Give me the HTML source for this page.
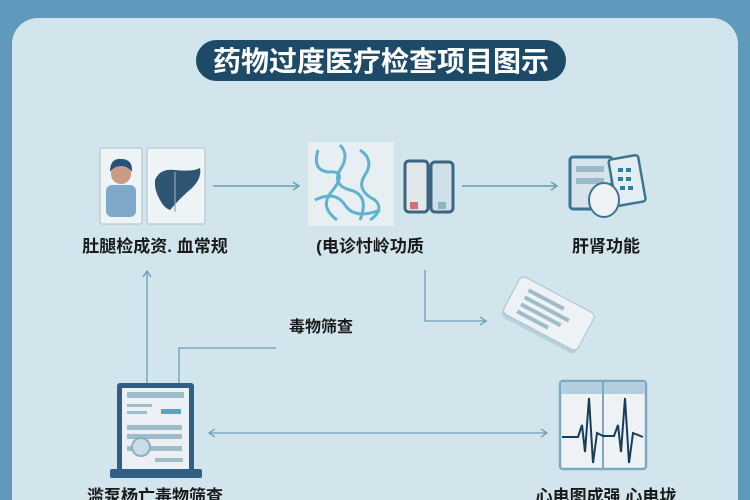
<!DOCTYPE html>
<html><head><meta charset="utf-8"><style>
html,body{margin:0;padding:0;width:750px;height:500px;overflow:hidden;background:#5f99bb}
svg{display:block}
text{font-family:"Liberation Sans","Noto Sans CJK SC",sans-serif;fill:#1a1a1a;font-weight:bold}
</style></head><body>
<svg width="750" height="500" viewBox="0 0 750 500">
<rect x="0" y="0" width="750" height="500" fill="#5f99bb"/>
<rect x="12" y="18" width="726" height="520" rx="26" fill="#d2e5ec"/>
<rect x="196" y="40" width="370" height="41" rx="20.5" fill="#1d4a67"/>
<text x="381" y="71" font-size="28" text-anchor="middle" style="fill:#fff">药物过度医疗检查项目图示</text>

<rect x="100" y="148" width="42" height="76" rx="2" fill="#eef3f5" stroke="#a9c0ca"/>
<rect x="147" y="148" width="58" height="76" rx="2" fill="#eef3f5" stroke="#a9c0ca"/>
<rect x="106" y="185" width="30" height="32" rx="6" fill="#7fa9c8"/>
<circle cx="121" cy="174" r="10" fill="#c99a85"/>
<path d="M110 172 q0 -14 11 -13 q12 0 11 13 q-4 -6 -11 -6 q-7 0 -11 6z" fill="#24527a"/>
<path d="M155 180 q5 -12 20 -10 q18 2 25 -2 q2 10 -8 20 q-12 10 -22 22 q-6 -2 -10 -10 q-6 -10 -5 -20z" fill="#2f5574"/>
<line x1="175" y1="172" x2="175" y2="212" stroke="#8fa6b6" stroke-width="1.2"/>
<text x="155" y="252" font-size="17" text-anchor="middle">肚腿检成资. 血常规</text>

<line x1="213" y1="186" x2="298" y2="186" stroke="#6b9db5" stroke-width="1.5"/>
<path d="M293 182 l6 4 l-6 4" fill="none" stroke="#6b9db5" stroke-width="1.5"/>

<rect x="308" y="142" width="86" height="84" fill="#e7eff2"/>
<path d="M318 150 q-6 20 10 22 q20 -2 5 18 q-15 16 4 30 M340 145 q10 10 0 25 q-8 15 10 20 q20 5 10 30 M360 150 q15 10 5 25 q-10 15 10 25 q10 10 -5 20 M315 200 q20 -10 30 5 q10 15 35 5" fill="none" stroke="#5fb3cf" stroke-width="3"/>
<rect x="405" y="161" width="23" height="51" rx="4" fill="#dfe7ea" stroke="#3c6582" stroke-width="3"/>
<rect x="410" y="202" width="8" height="7" fill="#d17070"/>
<rect x="431" y="162" width="22" height="50" rx="4" fill="#cfe0e8" stroke="#3c6582" stroke-width="3"/>
<rect x="438" y="202" width="8" height="7" fill="#8fb3c4"/>
<text x="370" y="252" font-size="17" text-anchor="middle">(电诊忖岭功质</text>

<line x1="462" y1="186" x2="556" y2="186" stroke="#6b9db5" stroke-width="1.5"/>
<path d="M551 182 l6 4 l-6 4" fill="none" stroke="#6b9db5" stroke-width="1.5"/>

<rect x="570" y="157" width="42" height="52" rx="3" fill="#d6e3ea" stroke="#3d7590" stroke-width="3"/>
<rect x="576" y="166" width="28" height="6" fill="#9bb9c9"/>
<rect x="576" y="178" width="28" height="6" fill="#9bb9c9"/>
<rect x="612" y="157" width="30" height="47" rx="3" fill="#e4eef2" stroke="#3d7590" stroke-width="2.5" transform="rotate(-10 627 180)"/>
<g fill="#2e7fa0"><rect x="618" y="168" width="5" height="4"/><rect x="626" y="168" width="5" height="4"/><rect x="618" y="177" width="5" height="4"/><rect x="626" y="177" width="5" height="4"/><rect x="620" y="186" width="5" height="4"/><rect x="628" y="186" width="5" height="4"/></g>
<ellipse cx="604" cy="200" rx="15" ry="17" fill="#eef2f4" stroke="#3d7590" stroke-width="2"/>
<text x="606" y="252" font-size="17" text-anchor="middle">肝肾功能</text>

<line x1="147" y1="409" x2="147" y2="272" stroke="#6b9db5" stroke-width="1.3"/>
<path d="M143 277 l4 -6 l4 6" fill="none" stroke="#6b9db5" stroke-width="1.3"/>
<polyline points="276,348 179,348 179,408" fill="none" stroke="#6b9db5" stroke-width="1.3"/>
<path d="M175 402 l4 6 l4 -6" fill="none" stroke="#6b9db5" stroke-width="1.3"/>
<text x="321" y="332" font-size="16" text-anchor="middle">毒物筛查</text>
<polyline points="425,270 425,321 485,321" fill="none" stroke="#6b9db5" stroke-width="1.3"/>
<path d="M480 317 l6 4 l-6 4" fill="none" stroke="#6b9db5" stroke-width="1.3"/>

<g transform="rotate(28 547 317)">
<rect x="505" y="296" width="84" height="42" rx="5" fill="#b8d0dc"/>
<rect x="505" y="292" width="84" height="42" rx="5" fill="#eef2f4" stroke="#a6c2d0"/>
<g fill="#9fbccb"><rect x="518" y="300" width="40" height="4"/><rect x="518" y="308" width="50" height="4"/><rect x="518" y="316" width="45" height="4"/><rect x="518" y="324" width="35" height="4"/></g>
</g>

<rect x="117" y="383" width="77" height="94" rx="3" fill="#2f5f84"/>
<rect x="122" y="388" width="67" height="84" fill="#eaf0f3"/>
<rect x="110" y="469" width="92" height="9" rx="2" fill="#2f5f84"/>
<g fill="#9fbccb"><rect x="127" y="392" width="57" height="6"/><rect x="127" y="404" width="25" height="3"/><rect x="127" y="411" width="20" height="3"/><rect x="127" y="425" width="55" height="5"/><rect x="127" y="434" width="55" height="5"/><rect x="127" y="446" width="55" height="5"/><rect x="155" y="458" width="28" height="4"/></g>
<rect x="161" y="409" width="20" height="5" fill="#5aa6c1"/>
<circle cx="141" cy="447" r="9" fill="#c9dde6" stroke="#8fb0c2" stroke-width="2"/>

<line x1="210" y1="433" x2="546" y2="433" stroke="#6b9db5" stroke-width="1.3"/>
<path d="M215 429 l-6 4 l6 4" fill="none" stroke="#6b9db5" stroke-width="1.3"/>
<path d="M541 429 l6 4 l-6 4" fill="none" stroke="#6b9db5" stroke-width="1.3"/>

<rect x="560" y="381" width="86" height="88" rx="3" fill="#eef2f4" stroke="#7ea8c0" stroke-width="2.5"/>
<rect x="561" y="382" width="84" height="12" fill="#b3cfdd"/>
<line x1="603" y1="382" x2="603" y2="468" stroke="#7ea8c0" stroke-width="2"/>
<polyline points="562,437 578,437 582,425 585,452 589,398 593,463 597,433 603,436 614,436 618,425 621,452 625,398 629,463 633,433 643,437" fill="none" stroke="#173d58" stroke-width="2"/>

<text x="155" y="502" font-size="17" text-anchor="middle">滥泵杨亡毒物筛查</text>
<text x="606" y="502" font-size="17" text-anchor="middle">心电图成强 心电垅</text>
</svg>
</body></html>
